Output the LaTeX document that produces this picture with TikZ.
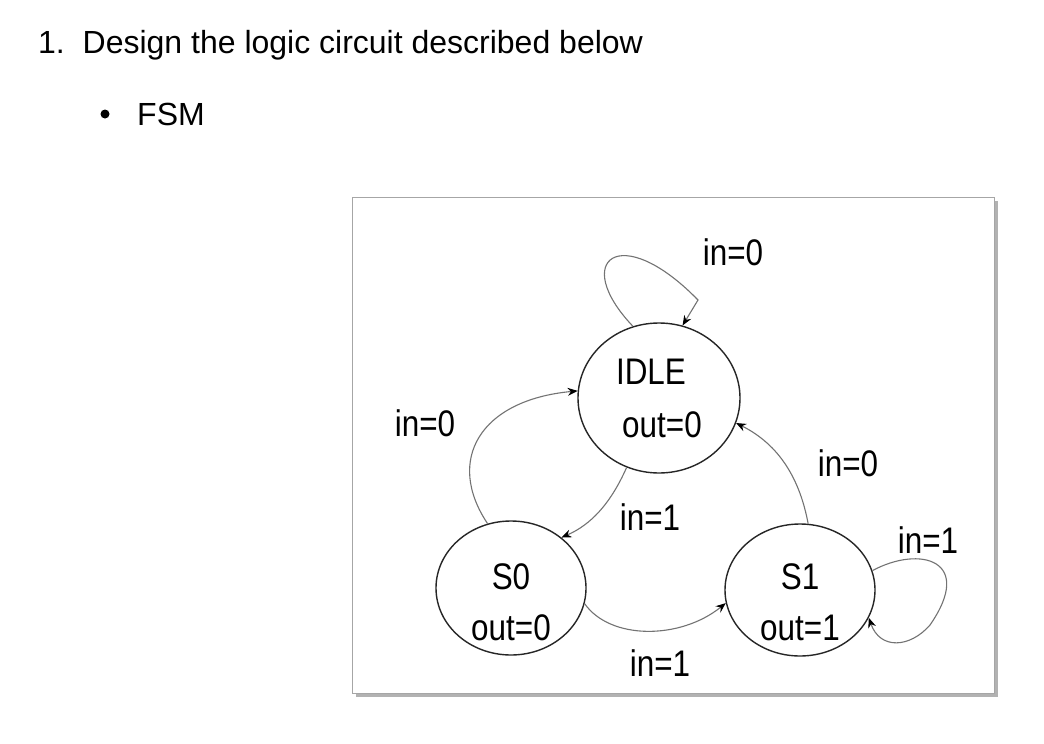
\documentclass[tikz,border=0pt]{standalone}
\usepackage{fontspec}
\setmainfont{Liberation Sans}
\usetikzlibrary{arrows.meta,shapes.geometric}
\begin{document}
\begin{tikzpicture}[x=1pt,y=-1pt,
  st/.style={draw=black!85,line width=1.4pt,ellipse,fill=white},
  lbl/.style={font=\fontsize{37}{38}\selectfont,inner sep=0pt,xscale=0.85},
  ed/.style={draw=black!55,line width=1.1pt,-{Stealth[length=10pt,width=8pt,black]}}]
\useasboundingbox (0,0) rectangle (1044,744);
\node[anchor=west,font=\fontsize{32}{34}\selectfont,inner sep=0pt] (title) at (38,45) {1.\ \ Design the logic circuit described below};
\node[circle,fill=black,inner sep=0pt,minimum size=9pt] (bul) at (105,114) {};
\node[anchor=west,font=\fontsize{32}{34}\selectfont,inner sep=0pt] (fsm) at (137,114) {FSM};
\fill[black!30] (356,201) rectangle (998,697);
\draw[fill=white,draw=black!35,line width=1pt] (352,197) rectangle (994,693);
\node[st,minimum width=162pt,minimum height=150pt] (idle) at (659,398) {};
\node[st,minimum width=150pt,minimum height=134pt] (s0) at (511,588) {};
\node[st,minimum width=150pt,minimum height=132pt] (s1) at (800,590) {};
\node[lbl] (t1) at (651,372) {IDLE};
\node[lbl] (t2) at (662,425) {out=0};
\node[lbl] (t3) at (511,577) {S0};
\node[lbl] (t4) at (511,628) {out=0};
\node[lbl] (t5) at (800,577) {S1};
\node[lbl] (t6) at (800,628) {out=1};
\node[lbl] (l1) at (733,252) {in=0};
\node[lbl] (l2) at (425,423) {in=0};
\node[lbl] (l3) at (848,463) {in=0};
\node[lbl] (l4) at (650,517) {in=1};
\node[lbl] (l5) at (928,540) {in=1};
\node[lbl] (l6) at (660,663) {in=1};
\draw[ed] (idle.110) .. controls (570,260) and (620,220) .. (698,300) -- (idle.72);
\draw[ed] (s0.110) .. controls (445,460) and (480,400) .. (idle.175);
\draw[ed] (idle.245) .. controls (610,505) and (590,525) .. (s0.45);
\draw[ed] (s0.-12) .. controls (610,640) and (680,640) .. (s1.190);
\draw[ed] (s1.83) .. controls (800,480) and (780,445) .. (idle.-18);
\draw[ed] (s1.15) .. controls (920,545) and (975,560) .. (930,625) .. controls (910,648) and (880,650) .. (s1.-22);
\end{tikzpicture}
\end{document}
